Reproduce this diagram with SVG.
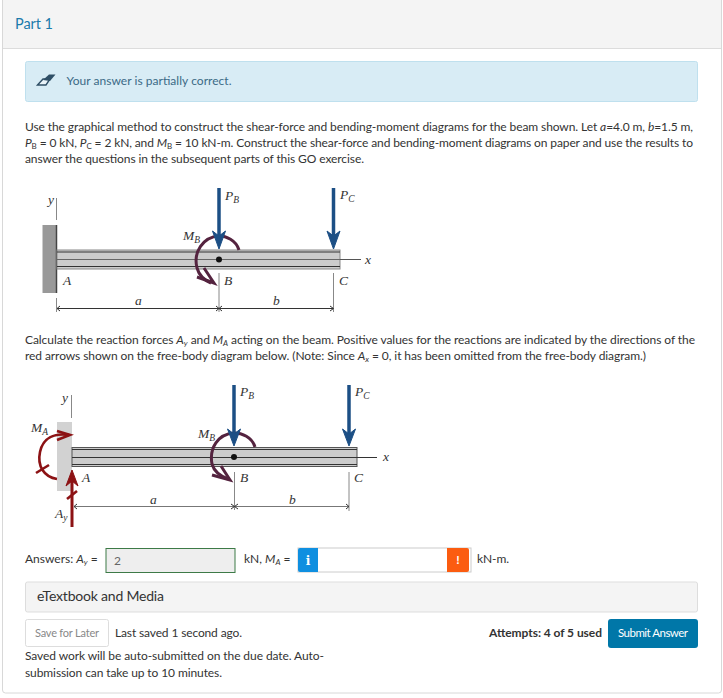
<svg xmlns="http://www.w3.org/2000/svg" width="723" height="698" viewBox="0 0 723 698">
<style>
text{font-family:Lato,"Open Sans","Liberation Sans",sans-serif;font-size:12px;fill:#333}
.it{font-style:italic}
.d{font-family:"Liberation Serif",serif;font-style:italic;font-size:13.500px;fill:#333}
.sub{font-size:8px}
.d .sub{font-size:9.500px}
.blue{stroke:#1c4f85;stroke-width:3.500;fill:none}
.head{fill:#1c4f85;stroke:#1c4f85}
.red{stroke:#8c1214;stroke-width:2.600;fill:none}
.mom{stroke:#54233f;stroke-width:3;fill:none}
.k{stroke:#333;stroke-width:1;fill:none}
</style>
<rect width="723" height="698" fill="#fff"/>
<g id="panel">
<rect x="2.500" y="-4" width="719" height="697" rx="3" fill="#fff" stroke="#d8d8d8"/>
<rect x="3" y="0" width="718" height="48" fill="#f4f4f4"/>
<line x1="3" y1="48.500" x2="721" y2="48.500" stroke="#dcdcdc"/>
<text x="15" y="29" style="font-size:14.500px;fill:#1b7bab" textLength="38">Part 1</text>
</g>
<g id="notice">
<rect x="25.500" y="61.500" width="672" height="40" rx="2" fill="#d8ecf5" stroke="#bfe0ee"/>
<path d="M37.500 85 L43 79 L50 79 L46 85 Z" fill="#eaf4f9" stroke="#2f4f66" stroke-width="1.400"/>
<path d="M43 80 L49 74.500 L55.500 74.500 L50 81 Z" fill="#2f4f66"/>
<text x="66.500" y="85" style="fill:#3b6a86" textLength="165">Your answer is partially correct.</text>
</g>
<g id="intro">
<text x="25" y="131" textLength="668">Use the graphical method to construct the shear-force and bending-moment diagrams for the beam shown. Let <tspan class="it">a</tspan>=4.0 m, <tspan class="it">b</tspan>=1.5 m,</text>
<text x="25" y="147" textLength="668"><tspan class="it">P</tspan><tspan class="sub" dy="2">B</tspan><tspan dy="-2"> = 0 kN, </tspan><tspan class="it">P</tspan><tspan class="sub" dy="2">C</tspan><tspan dy="-2"> = 2 kN, and </tspan><tspan class="it">M</tspan><tspan class="sub" dy="2">B</tspan><tspan dy="-2"> = 10 kN-m. Construct the shear-force and bending-moment diagrams on paper and use the results to</tspan></text>
<text x="25" y="163" textLength="339">answer the questions in the subsequent parts of this GO exercise.</text>
</g>
<g id="beam-diagram-1">
<rect x="42.500" y="225" width="14" height="68" fill="#999"/>
<line x1="56.500" y1="225" x2="56.500" y2="293" stroke="#444" stroke-width="1.500"/>
<line x1="56.500" y1="198" x2="56.500" y2="220" stroke="#888"/>
<text class="d" x="48" y="204">y</text>
<rect x="57" y="250" width="283" height="19" fill="#ccc" stroke="#888"/>
<line x1="57" y1="252" x2="340" y2="252" stroke="#333"/>
<line x1="57" y1="259.500" x2="340" y2="259.500" stroke="#666"/>
<line x1="57" y1="266.500" x2="340" y2="266.500" stroke="#333"/>
<line x1="340" y1="259.500" x2="361" y2="259.500" stroke="#555"/>
<text class="d" x="365" y="264">x</text>
<text class="d" x="63" y="285">A</text>
<text class="d" x="224" y="285">B</text>
<text class="d" x="339" y="285">C</text>
<line x1="219" y1="273" x2="219" y2="312" stroke="#888"/>
<line x1="333.500" y1="273" x2="333.500" y2="312" stroke="#888"/>
<line x1="56.500" y1="298" x2="56.500" y2="312" stroke="#888"/>
<line x1="57" y1="308.500" x2="333" y2="308.500" stroke="#333"/>
<path d="M60 306 L57 308.500 L60 311 M216 306 L219 308.500 L216 311 M222 306 L219 308.500 L222 311 M330 306 L333.500 308.500 L330 311" class="k"/>
<text class="d" x="135" y="305">a</text>
<text class="d" x="273" y="305">b</text>
<path d="M239 250 C236 240 226 236 219 236 C203 237 193 252 197 268 C199 275 204 280 211 283" class="mom"/>
<path d="M197 277 L214 283 L204 268" class="mom"/>
<text class="d" x="183" y="240">M<tspan class="sub" dy="3">B</tspan></text>
<g id="arrow-pb-1"><line x1="219" y1="188" x2="219" y2="240" class="blue"/><path d="M212.500 231 L219 236 L225.500 231 L219 249 Z" class="head"/></g>
<text class="d" x="225" y="200">P<tspan class="sub" dy="3">B</tspan></text>
<g id="arrow-pc-1"><line x1="333.500" y1="188" x2="333.500" y2="240" class="blue"/><path d="M327 231 L333.500 236 L340 231 L333.500 249 Z" class="head"/></g>
<text class="d" x="340" y="199">P<tspan class="sub" dy="3">C</tspan></text>
<circle cx="219" cy="259.500" r="3" fill="#111"/>
</g>
<text x="25" y="344" textLength="670">Calculate the reaction forces <tspan class="it">A</tspan><tspan class="sub it" dy="2">y</tspan><tspan dy="-2"> and </tspan><tspan class="it">M</tspan><tspan class="sub it" dy="2">A</tspan><tspan dy="-2"> acting on the beam. Positive values for the reactions are indicated by the directions of the</tspan></text>
<text x="25" y="360" textLength="621">red arrows shown on the free-body diagram below. (Note: Since <tspan class="it">A</tspan><tspan class="sub it" dy="2">x</tspan><tspan dy="-2"> = 0, it has been omitted from the free-body diagram.)</tspan></text>
<g id="beam-diagram-2">
<rect x="57" y="422" width="15" height="69" fill="#d2d2d2"/>
<line x1="71.500" y1="395" x2="71.500" y2="418" stroke="#888"/>
<text class="d" x="62" y="402">y</text>
<rect x="72" y="447.500" width="285" height="19" fill="#ccc" stroke="#555"/>
<line x1="72" y1="449.500" x2="357" y2="449.500" stroke="#333"/>
<line x1="72" y1="457.500" x2="357" y2="457.500" stroke="#333"/>
<line x1="72" y1="464.500" x2="357" y2="464.500" stroke="#333"/>
<line x1="357" y1="457.500" x2="377" y2="457.500" stroke="#333"/>
<text class="d" x="383" y="461">x</text>
<text class="d" x="82" y="482">A</text>
<text class="d" x="240" y="482">B</text>
<text class="d" x="354" y="482">C</text>
<line x1="234.500" y1="472" x2="234.500" y2="510" stroke="#888"/>
<line x1="349" y1="472" x2="349" y2="511" stroke="#888"/>
<line x1="74" y1="506.500" x2="349" y2="506.500" stroke="#777"/>
<path d="M77 504 L74 506.500 L77 509 M231 504 L234.500 506.500 L231 509 M238 504 L234.500 506.500 L238 509 M346 504 L349 506.500 L346 509" class="k"/>
<text class="d" x="150" y="504">a</text>
<text class="d" x="289" y="504">b</text>
<path d="M255 447 C252 437 242 433 234 433 C218 434 209 448 212 464 C214 471 220 476 228 479" class="mom"/>
<path d="M212 475 L230 480 L221 466" class="mom"/>
<text class="d" x="198" y="438">M<tspan class="sub" dy="3">B</tspan></text>
<g id="arrow-pb-2"><line x1="234" y1="385" x2="234" y2="438" class="blue"/><path d="M227.500 429 L234 434 L240.500 429 L234 446 Z" class="head"/></g>
<text class="d" x="240" y="396">P<tspan class="sub" dy="3">B</tspan></text>
<g id="arrow-pc-2"><line x1="349" y1="385" x2="349" y2="438" class="blue"/><path d="M342.500 429 L349 434 L355.500 429 L349 446 Z" class="head"/></g>
<text class="d" x="355" y="396">P<tspan class="sub" dy="3">C</tspan></text>
<circle cx="234" cy="457" r="3" fill="#111"/>
<path d="M57 479 C44 477 37 466 40 452 C43 438 54 433 69 435" class="red"/>
<path d="M57 431 L70 435 L57 440" class="red"/>
<line x1="36" y1="473" x2="49" y2="465" class="red"/>
<line x1="72" y1="527" x2="72" y2="478" class="red" style="stroke-width:3"/>
<path d="M66 486 L72 481 L78 486 L72 470 Z" fill="#8c1214" stroke="#8c1214"/>
<line x1="67" y1="499" x2="77" y2="491" class="red"/>
<text class="d" x="31" y="432">M<tspan class="sub" dy="3">A</tspan></text>
<text class="d" x="55" y="518">A<tspan class="sub" dy="3">y</tspan></text>
</g>
<g id="answers">
<text x="25" y="563">Answers: <tspan class="it">A</tspan><tspan class="sub it" dy="2">y</tspan><tspan dy="-2"> =</tspan></text>
<rect x="106" y="548.500" width="129" height="24" fill="#eee" stroke="#3d7a47"/>
<text x="114" y="565" style="fill:#666">2</text>
<text x="244" y="563">kN, <tspan class="it">M</tspan><tspan class="sub it" dy="2">A</tspan><tspan dy="-2"> =</tspan></text>
<rect x="298" y="548" width="173" height="24" fill="#fff" stroke="#ccc"/>
<path d="M318 548 H300 a2 2 0 0 0 -2 2 V570 a2 2 0 0 0 2 2 H318 Z" fill="#0f8fe0"/>
<text x="308" y="565" style="fill:#fff;font-weight:bold;text-anchor:middle;font-family:'DejaVu Serif',serif">i</text>
<path d="M447 548 H467 a2 2 0 0 1 2 2 V570 a2 2 0 0 1 -2 2 H447 Z" fill="#fb5c10"/>
<text x="458" y="564" style="fill:#fff;font-weight:bold;text-anchor:middle">!</text>
<text x="477" y="563" textLength="32">kN-m.</text>
</g>
<g id="etextbook">
<rect x="25.500" y="582" width="672" height="30" rx="2" fill="#f4f4f4" stroke="#ddd"/>
<text x="37" y="601" style="font-size:14px" textLength="127">eTextbook and Media</text>
</g>
<g id="footer">
<rect x="25.500" y="619.500" width="83" height="27" rx="2" fill="#fff" stroke="#ddd"/>
<text x="35" y="637" style="font-size:11px;fill:#888" textLength="64">Save for Later</text>
<text x="115" y="637" textLength="127">Last saved 1 second ago.</text>
<text x="25" y="660" textLength="299">Saved work will be auto-submitted on the due date. Auto-</text>
<text x="25" y="677" textLength="197">submission can take up to 10 minutes.</text>
<text x="489" y="637" style="font-weight:bold" textLength="113">Attempts: 4 of 5 used</text>
<rect x="608" y="619" width="90" height="29" rx="3" fill="#0077a8"/>
<text x="618" y="637" style="font-size:11.500px;fill:#fff" textLength="70">Submit Answer</text>
</g>
</svg>
